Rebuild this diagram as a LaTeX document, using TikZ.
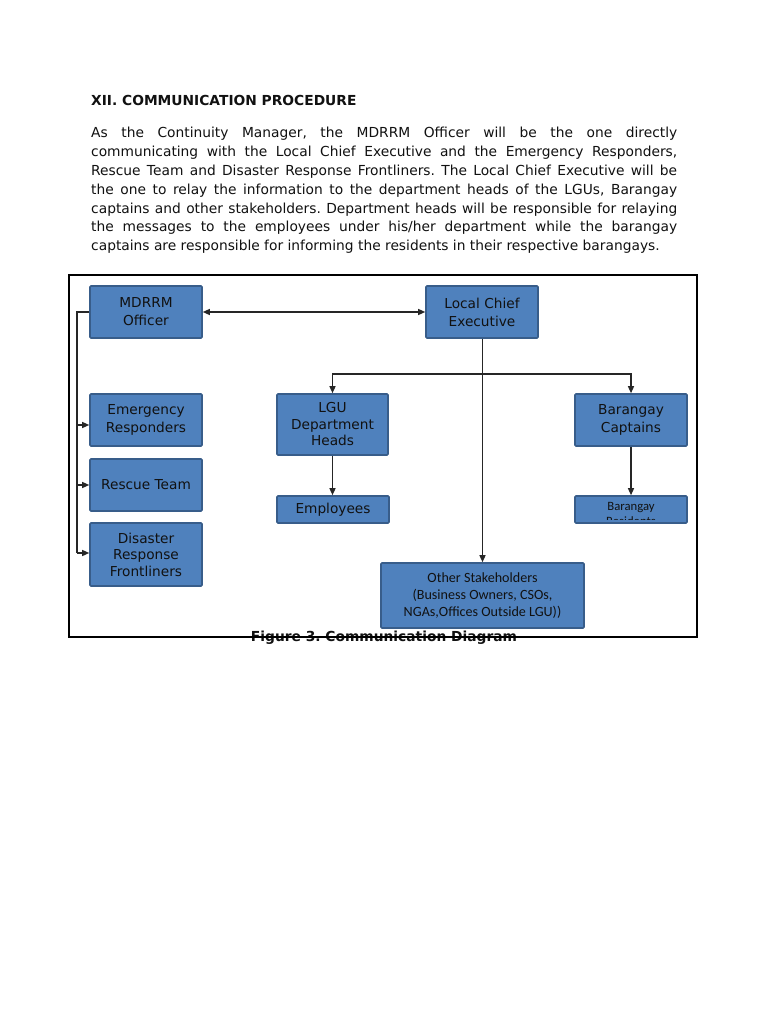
\documentclass[tikz,border=0pt]{standalone}
\usepackage{fontspec}
\setmainfont{DejaVu Sans}
\newfontfamily\carl{Carlito}
\usetikzlibrary{arrows.meta}
\definecolor{boxfill}{HTML}{4F81BD}
\definecolor{boxline}{HTML}{385D8A}
\definecolor{ink}{HTML}{111111}
\tikzset{
  box/.style={draw=boxline, fill=boxfill, line width=1.6pt, rounded corners=1pt,
    align=center, inner sep=0pt, text=ink, font=\fontsize{13.7}{18}\selectfont},
  conn/.style={draw=black!85, line width=1.3pt},
  arr/.style={conn, -{Triangle[length=7pt,width=6pt]}},
  darr/.style={conn, {Triangle[length=7pt,width=6pt]}-{Triangle[length=7pt,width=6pt]}},
  para/.style={anchor=base west, inner sep=0pt, text=ink, font=\fontsize{13.8}{18.8}\selectfont},
}
\begin{document}
\frenchspacing
\begin{tikzpicture}[x=1pt,y=-1pt]
\useasboundingbox[fill=white] (0,0) rectangle (768,1024);

% heading and paragraph
\node[para, font=\fontsize{13.8}{18.8}\selectfont\bfseries] (head) at (91,105.5) {XII. COMMUNICATION PROCEDURE};
\node[para] (p1) at (91,138) {\makebox[586pt][s]{As the Continuity Manager, the MDRRM Officer will be the one directly}};
\node[para] (p2) at (91,156.8) {\makebox[586pt][s]{communicating with the Local Chief Executive and the Emergency Responders,}};
\node[para] (p3) at (91,175.6) {\makebox[586pt][s]{Rescue Team and Disaster Response Frontliners. The Local Chief Executive will be}};
\node[para] (p4) at (91,194.4) {\makebox[586pt][s]{the one to relay the information to the department heads of the LGUs, Barangay}};
\node[para] (p5) at (91,213.2) {\makebox[586pt][s]{captains and other stakeholders. Department heads will be responsible for relaying}};
\node[para] (p6) at (91,232) {\makebox[586pt][s]{the messages to the employees under his/her department while the barangay}};
\node[para] (p7) at (91,250.8) {captains are responsible for informing the residents in their respective barangays.};

% caption (under the frame line)
\node[anchor=base, inner sep=0pt, text=ink, font=\fontsize{13.8}{16}\selectfont\bfseries] (cap) at (384,641) {Figure 3. Communication Diagram};

% frame
\draw[line width=2.3pt, black] (69,275) rectangle (697,637);

% boxes
\node[box, minimum width=112pt, minimum height=52pt] (mdrrm) at (146,312) {MDRRM\\Officer};
\node[box, minimum width=112pt, minimum height=52pt] (lce) at (482,312) {Local Chief\\Executive};
\node[box, minimum width=112pt, minimum height=52pt] (emerg) at (146,420) {Emergency\\Responders};
\node[box, minimum width=112pt, minimum height=52pt] (rescue) at (146,485) {Rescue Team};
\node[box, minimum width=112pt, minimum height=63pt, font=\fontsize{13.7}{16.5}\selectfont] (disaster) at (146,554.5) {Disaster\\Response\\Frontliners};
\node[box, minimum width=111pt, minimum height=61pt, font=\fontsize{13.7}{16.5}\selectfont] (lgu) at (332.5,424.5) {LGU\\Department\\Heads};
\node[box, minimum width=112pt, minimum height=52pt] (capt) at (631,420) {Barangay\\Captains};
\node[box, minimum width=112pt, minimum height=27pt] (empl) at (333,509.5) {Employees};
\node[box, minimum width=112pt, minimum height=27pt] (resid) at (631,509.5) {};
\node[box, minimum width=203pt, minimum height=65pt, font=\carl\fontsize{14.1}{17.3}\selectfont] (other) at (482.5,595.5) {Other Stakeholders\\(Business Owners, CSOs,\\NGAs,Offices Outside LGU))};

\begin{scope}
  \clip (576,497) rectangle (686,519.5);
  \node[align=center, inner sep=0pt, text=ink, font=\carl\fontsize{12.7}{15}\selectfont, anchor=north] (residtxt) at (631,502.5) {Barangay\\Residents};
\end{scope}

% connectors
\draw[darr] (mdrrm.east) -- (lce.west);
\coordinate (bt) at (77,312);
\coordinate (b1) at (77,425);
\coordinate (b2) at (77,485);
\coordinate (b3) at (77,553);
\draw[conn] (mdrrm.west) -- (bt) -- (b3);
\draw[arr] (b1) -- (emerg.west |- b1);
\draw[arr] (b2) -- (rescue.west |- b2);
\draw[arr] (b3) -- (disaster.west |- b3);

\draw[arr] (lce.south -| other.north) -- (other.north);
\coordinate (j) at (482,374);
\draw[darr] (lgu.north) |- (j) -| (capt.north);
\draw[arr] (lgu.south) -- (empl.north -| lgu.south);
\draw[arr] (capt.south) -- (resid.north);
\end{tikzpicture}
\end{document}
